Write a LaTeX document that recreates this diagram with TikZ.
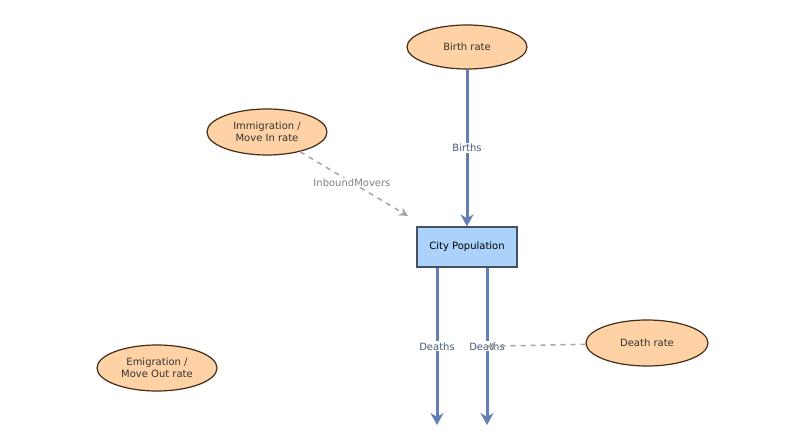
\documentclass[tikz,border=0pt]{standalone}
\usepackage{fontspec}
\setmainfont{DejaVu Sans}
\usetikzlibrary{shapes.geometric,arrows.meta}
\begin{document}
\begin{tikzpicture}[x=1pt,y=-1pt,
  aux/.style={ellipse,draw=black!65!brown,line width=1.2pt,fill=orange!35!white,minimum width=120pt,minimum height=44pt,inner sep=0pt,align=center,font=\fontsize{10}{12}\selectfont,text=black!80},
  flow/.style={draw=blue!35!black!45!cyan!10!blue!60!gray,color={rgb,255:red,100;green,125;blue,180},line width=3pt,-{Stealth[length=12pt,width=13pt]}},
  dep/.style={draw=gray!70,line width=1.5pt,dash pattern=on 5pt off 5pt,-{Stealth[length=9pt,width=9pt]}},
  lbl/.style={fill=white,inner sep=1pt,font=\fontsize{10}{12}\selectfont,text={rgb,255:red,70;green,90;blue,120}}]
\useasboundingbox (0,0) rectangle (800,438);
\node[aux] (birth) at (467,47) {Birth rate};
\node[aux,minimum height=46pt] (imm) at (267,132) {Immigration /\\Move In rate};
\node[aux,minimum width=122pt,minimum height=46pt] (death) at (647,343) {Death rate};
\node[aux,minimum height=46pt] (emi) at (157,368) {Emigration /\\Move Out rate};
\node[draw={rgb,255:red,70;green,80;blue,95},line width=1.2pt,fill={rgb,255:red,170;green,210;blue,250},minimum width=100pt,minimum height=40pt,inner sep=0pt,font=\fontsize{10}{12}\selectfont] (city) at (467,247) {City Population};
\coordinate (d1) at (437,425);
\coordinate (d2) at (487,425);
\draw[flow] (birth) -- node[lbl] (lb) {Births} (city.north);
\draw[flow] (city.south -| d1) -- node[lbl,pos=0.5] (ld1) {Deaths} (d1);
\draw[flow] (city.south -| d2) -- node[lbl,pos=0.5] (ld2) {Deaths} (d2);
\coordinate (inb) at (408,216);
\draw[dep] (imm) -- node[lbl,text=gray,pos=0.48] {Inbound\\[-2pt]Movers} (inb);
\node[lbl,align=center,text=gray] at (354,186) {};
\draw[dep] (death) -- (ld2.center);
\end{tikzpicture}
\end{document}
